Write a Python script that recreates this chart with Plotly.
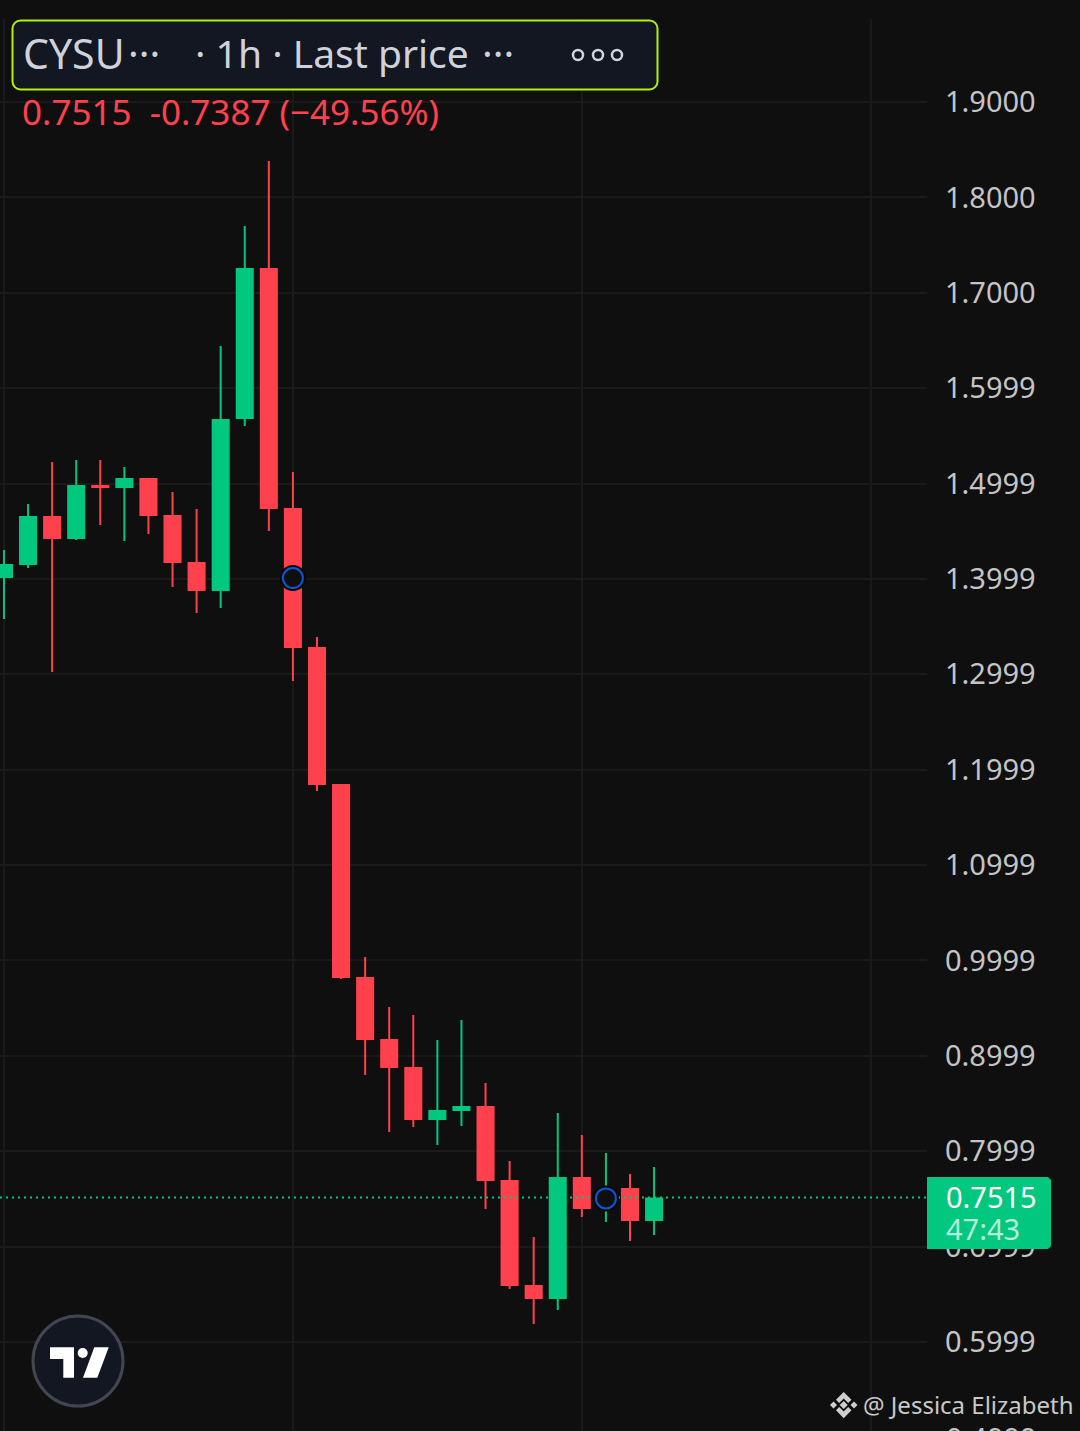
import plotly.graph_objects as go

W, H = 1080, 1431
BG = "#0f0f0f"
GRID = "#1a1a1a"
UP = "#02c77e"
DOWN = "#ff404d"
TEXT = "#c4c4c6"

index = list(range(28))
open_ = [1.4019, 1.4156, 1.4649, 1.4428, 1.4974, 1.4963, 1.5048, 1.4660, 1.4167, 1.3883, 1.5686, 1.7250, 1.4733, 1.3276,
         1.1840, 0.9816, 0.9166, 0.8873, 0.8337, 0.8431, 0.8464, 0.7688, 0.6587, 0.6460, 0.7719, 0.7505, 0.7604, 0.7278]
high = [1.4303, 1.4785, 1.5226, 1.5247, 1.5247, 1.5173, 1.5058, 1.4911, 1.4733, 1.6442, 1.7700, 1.8381, 1.5121, 1.3391,
        1.1850, 1.0036, 0.9512, 0.9428, 0.9166, 0.9375, 0.8715, 0.7897, 0.7100, 0.8400, 0.8170, 0.7981, 0.7761, 0.7834]
low = [1.3580, 1.4114, 1.3024, 1.4408, 1.4565, 1.4397, 1.4471, 1.3915, 1.3642, 1.3695, 1.5603, 1.4502, 1.2930, 1.1776,
       0.9805, 0.8799, 0.8201, 0.8254, 0.8065, 0.8264, 0.7394, 0.6555, 0.6188, 0.6335, 0.7310, 0.7258, 0.7058, 0.7121]
close = [1.4146, 1.4649, 1.4428, 1.4974, 1.4963, 1.5048, 1.4669, 1.4177, 1.3883, 1.5666, 1.7250, 1.4743, 1.3286, 1.1849,
         0.9826, 0.9176, 0.8882, 0.8337, 0.8422, 0.8464, 0.7697, 0.6597, 0.6460, 0.7719, 0.7404, 0.7515, 0.7278, 0.7505]

last_price = 0.7515
event_x = [12, 25]
event_y = [1.4009, 0.7505]

price_ticks = [1.9000, 1.8000, 1.7000, 1.6000, 1.5000, 1.4000, 1.3000, 1.2000, 1.1000, 1.0000, 0.9000, 0.8000, 0.7000, 0.6000]
price_labels = ["1.9000", "1.8000", "1.7000", "1.5999", "1.4999", "1.3999", "1.2999", "1.1999", "1.0999", "0.9999",
                "0.8999", "0.7999", "0.6999", "0.5999"]
time_ticks = [0, 12, 24, 36]
x_range = [-0.165, 38.335]
y_range = [0.50663, 2.00694]


def px(x):
    return x / W


def py(y):
    return 1 - y / H


def poly(points):
    return "M " + " L ".join(f"{px(x):.5f},{py(y):.5f}" for x, y in points) + " Z"


def rounded(x0, y0, x1, y1, r):
    k = 0.45 * r
    c = lambda x, y: f"{px(x):.5f},{py(y):.5f}"
    return (f"M {c(x0 + r, y0)} L {c(x1 - r, y0)} C {c(x1 - k, y0)} {c(x1, y0 + k)} {c(x1, y0 + r)} "
            f"L {c(x1, y1 - r)} C {c(x1, y1 - k)} {c(x1 - k, y1)} {c(x1 - r, y1)} "
            f"L {c(x0 + r, y1)} C {c(x0 + k, y1)} {c(x0, y1 - k)} {c(x0, y1 - r)} "
            f"L {c(x0, y0 + r)} C {c(x0, y0 + k)} {c(x0 + k, y0)} {c(x0 + r, y0)} Z")


def paper_shape(**kw):
    return dict(xref="paper", yref="paper", layer="above", **kw)


def circle(cx, cy, r, fill, line="rgba(0,0,0,0)", lw=0):
    return paper_shape(type="circle", x0=px(cx - r), x1=px(cx + r), y0=py(cy + r), y1=py(cy - r),
                       fillcolor=fill, line=dict(color=line, width=lw))


def path(d, fill, line="rgba(0,0,0,0)", lw=0):
    return paper_shape(type="path", path=d, fillcolor=fill, line=dict(color=line, width=lw))


def label(x, y, text, size, color, anchor="left"):
    return dict(xref="paper", yref="paper", x=px(x), y=py(y), text=text, showarrow=False, xanchor=anchor,
                yanchor="middle", font=dict(family="Noto Sans", size=size, color=color), borderpad=0, borderwidth=0)


fig = go.Figure()
fig.add_trace(go.Candlestick(
    x=index, open=open_, high=high, low=low, close=close, whiskerwidth=0, hoverinfo="skip",
    increasing=dict(line=dict(color=UP, width=2), fillcolor=UP),
    decreasing=dict(line=dict(color=DOWN, width=2), fillcolor=DOWN),
    showlegend=False))
fig.add_trace(go.Scatter(x=x_range, y=[last_price, last_price], mode="lines", hoverinfo="skip", showlegend=False,
                         line=dict(color=UP, width=2, dash="2px,4px")))
fig.add_trace(go.Scatter(x=event_x, y=event_y, mode="markers", hoverinfo="skip", showlegend=False,
                         marker=dict(size=26, color="#070707", line=dict(width=0))))
fig.add_trace(go.Scatter(x=event_x, y=event_y, mode="markers", hoverinfo="skip", showlegend=False,
                         marker=dict(size=20, color=BG, line=dict(color="#0b57d8", width=2))))

shapes = [
    paper_shape(type="rect", x0=0, x1=px(927), y0=py(19), y1=1, fillcolor=BG, line=dict(width=0)),
    path(rounded(12.5, 20.5, 657.5, 89.5, 8), "#131722", "#b2f00a", 2),
    circle(578, 55, 5, "rgba(0,0,0,0)", "#d1d4dc", 2.5),
    circle(598, 55, 5, "rgba(0,0,0,0)", "#d1d4dc", 2.5),
    circle(617, 55, 5, "rgba(0,0,0,0)", "#d1d4dc", 2.5),
    path(poly([(927, 1177), (1048, 1177), (1051, 1180), (1051, 1246), (1048, 1249), (927, 1249)]), "#02c77e"),
    circle(78, 1361, 45, "#131722", "#434651", 3),
    path(poly([(50, 1347.3), (74, 1347.3), (74, 1377.7), (63.3, 1377.7), (63.3, 1359), (50, 1359)]), "#ffffff"),
    circle(82.7, 1353, 5, "#ffffff"),
    path(poly([(94.3, 1347.3), (108.7, 1347.3), (97.3, 1377.7), (83, 1377.7)]), "#ffffff"),
    path(poly([(833.5, 1401.5), (837, 1405), (833.5, 1408.5), (830, 1405)]), "#cfcfcf"),
    path(poly([(854, 1401.5), (857.5, 1405), (854, 1408.5), (850.5, 1405)]), "#cfcfcf"),
    path(poly([(843.7, 1401), (847.7, 1405), (843.7, 1409), (839.7, 1405)]), "#cfcfcf"),
    path(poly([(843.7, 1392), (851.5, 1399.8), (848.2, 1403), (843.7, 1398.5), (839.2, 1403), (836, 1399.8)]), "#cfcfcf"),
    path(poly([(843.7, 1418.3), (851.5, 1410.3), (848.2, 1407), (843.7, 1411.5), (839.2, 1407), (836, 1410.3)]), "#cfcfcf"),
]

HEAD = "#cfd2da"
annotations = [
    label(23, 53, "CYSU", 41, HEAD),
    label(128, 53, "···", 40, HEAD),
    label(195, 53, "· 1h · Last price", 39, HEAD),
    label(482, 53, "···", 40, HEAD),
    label(22, 111, "0.7515  -0.7387 (−49.56%)", 35, DOWN),
    label(946, 1196, "0.7515", 29, "#ffffff"),
    label(946, 1228, "47:43", 29, "#b4eeda"),
    label(863, 1404, "@ Jessica Elizabeth", 24, "#c8c8c8"),
    label(946, 1437, "0.4999", 29, TEXT),
]

fig.update_layout(
    width=W, height=H, margin=dict(l=0, r=0, t=0, b=0), autosize=False,
    paper_bgcolor=BG, plot_bgcolor=BG, boxgap=1 / 3, boxgroupgap=0,
    shapes=shapes, annotations=annotations,
    xaxis=dict(domain=[0, 927 / W], range=x_range, tickmode="array", tickvals=time_ticks, showticklabels=False,
               ticks="", showgrid=True, gridcolor=GRID, gridwidth=2, zeroline=False, showline=False,
               rangeslider=dict(visible=False), fixedrange=True),
    yaxis=dict(side="right", range=y_range, tickmode="array", tickvals=price_ticks, ticktext=price_labels,
               ticks="", ticklabelstandoff=17, tickfont=dict(family="Noto Sans", size=29, color=TEXT),
               showgrid=True, gridcolor=GRID, gridwidth=2, zeroline=False, showline=False, fixedrange=True,
               automargin=False),
)
fig.write_html("out.html", config=dict(displayModeBar=False),
               post_script="document.body.style.margin='0';document.body.style.overflow='hidden';"
                           "document.documentElement.style.background='#0f0f0f';")
